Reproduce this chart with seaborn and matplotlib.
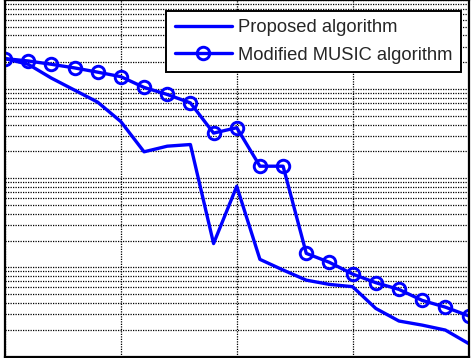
import matplotlib
matplotlib.use("Agg")
import matplotlib.pyplot as plt
import seaborn as sns
import pandas as pd
import numpy as np
from matplotlib.ticker import LogLocator, MultipleLocator, NullFormatter

# ---- data ----
snr = list(range(-10, 11))
proposed = [0.220, 0.190, 0.133, 0.0975, 0.0714, 0.0432, 0.0198, 0.0229, 0.0239,
            0.00185, 0.00813, 0.00123, 0.000934, 0.000719, 0.000644, 0.000607,
            0.000346, 0.000250, 0.000225, 0.000198, 0.000140]
music = [0.220, 0.207, 0.190, 0.173, 0.155, 0.138, 0.1045, 0.0871, 0.0701,
         0.0321, 0.0369, 0.01365, 0.01365, 0.001436, 0.001138, 0.000841,
         0.000673, 0.000566, 0.000426, 0.000358, 0.000286]
labels = ["Proposed algorithm", "Modified MUSIC algorithm"]

sns.set_style("white")
plt.rcParams["font.family"] = ["Liberation Sans", "DejaVu Sans"]

W, H = 474, 358
fig = plt.figure(figsize=(W / 100, H / 100), dpi=100)
ax = fig.add_axes([5 / W, 1.5 / H, 463.5 / W, 356.5 / H])

df = pd.DataFrame({"snr": snr, "proposed": proposed, "music": music})
blue = "#0000ff"
sns.lineplot(data=df, x="snr", y="proposed", ax=ax, color=blue, lw=2.4,
             label=labels[0])
sns.lineplot(data=df, x="snr", y="music", ax=ax, color=blue, lw=2.4,
             marker="o", markersize=9, markerfacecolor="none",
             markeredgecolor=blue, markeredgewidth=2.1, label=labels[1])

ax.set_yscale("log")
ax.set_ylim(1e-4, 1e0)
ax.set_xlim(-10, 10)
ax.xaxis.set_major_locator(MultipleLocator(5))
ax.yaxis.set_major_locator(LogLocator(base=10, numticks=10))
ax.yaxis.set_minor_locator(LogLocator(base=10, subs=np.arange(2, 10), numticks=20))
ax.yaxis.set_minor_formatter(NullFormatter())

grid_kw = dict(color="black", linestyle=(0, (1, 1)), linewidth=0.9, alpha=1.0)
ax.grid(True, which="major", axis="both", **grid_kw)
ax.grid(True, which="minor", axis="y", **grid_kw)
ax.set_axisbelow(True)

ax.set_xlabel("")
ax.set_ylabel("")
ax.tick_params(axis="both", which="both", direction="in",
               labelleft=False, labelbottom=False, length=0)
for s in ax.spines.values():
    s.set_visible(True)
    s.set_color("black")
    s.set_linewidth(1.6)

leg = ax.legend(loc="upper right",
                bbox_to_anchor=(460.7 / W, 1 - 10.7 / H),
                bbox_transform=fig.transFigure,
                borderaxespad=0, fontsize=13.2, handlelength=3.1,
                handletextpad=0.35, labelspacing=0.58, borderpad=0.45,
                fancybox=False, framealpha=1, edgecolor="black")
leg.get_frame().set_linewidth(1.4)

fig.savefig("out.png", dpi=100)
